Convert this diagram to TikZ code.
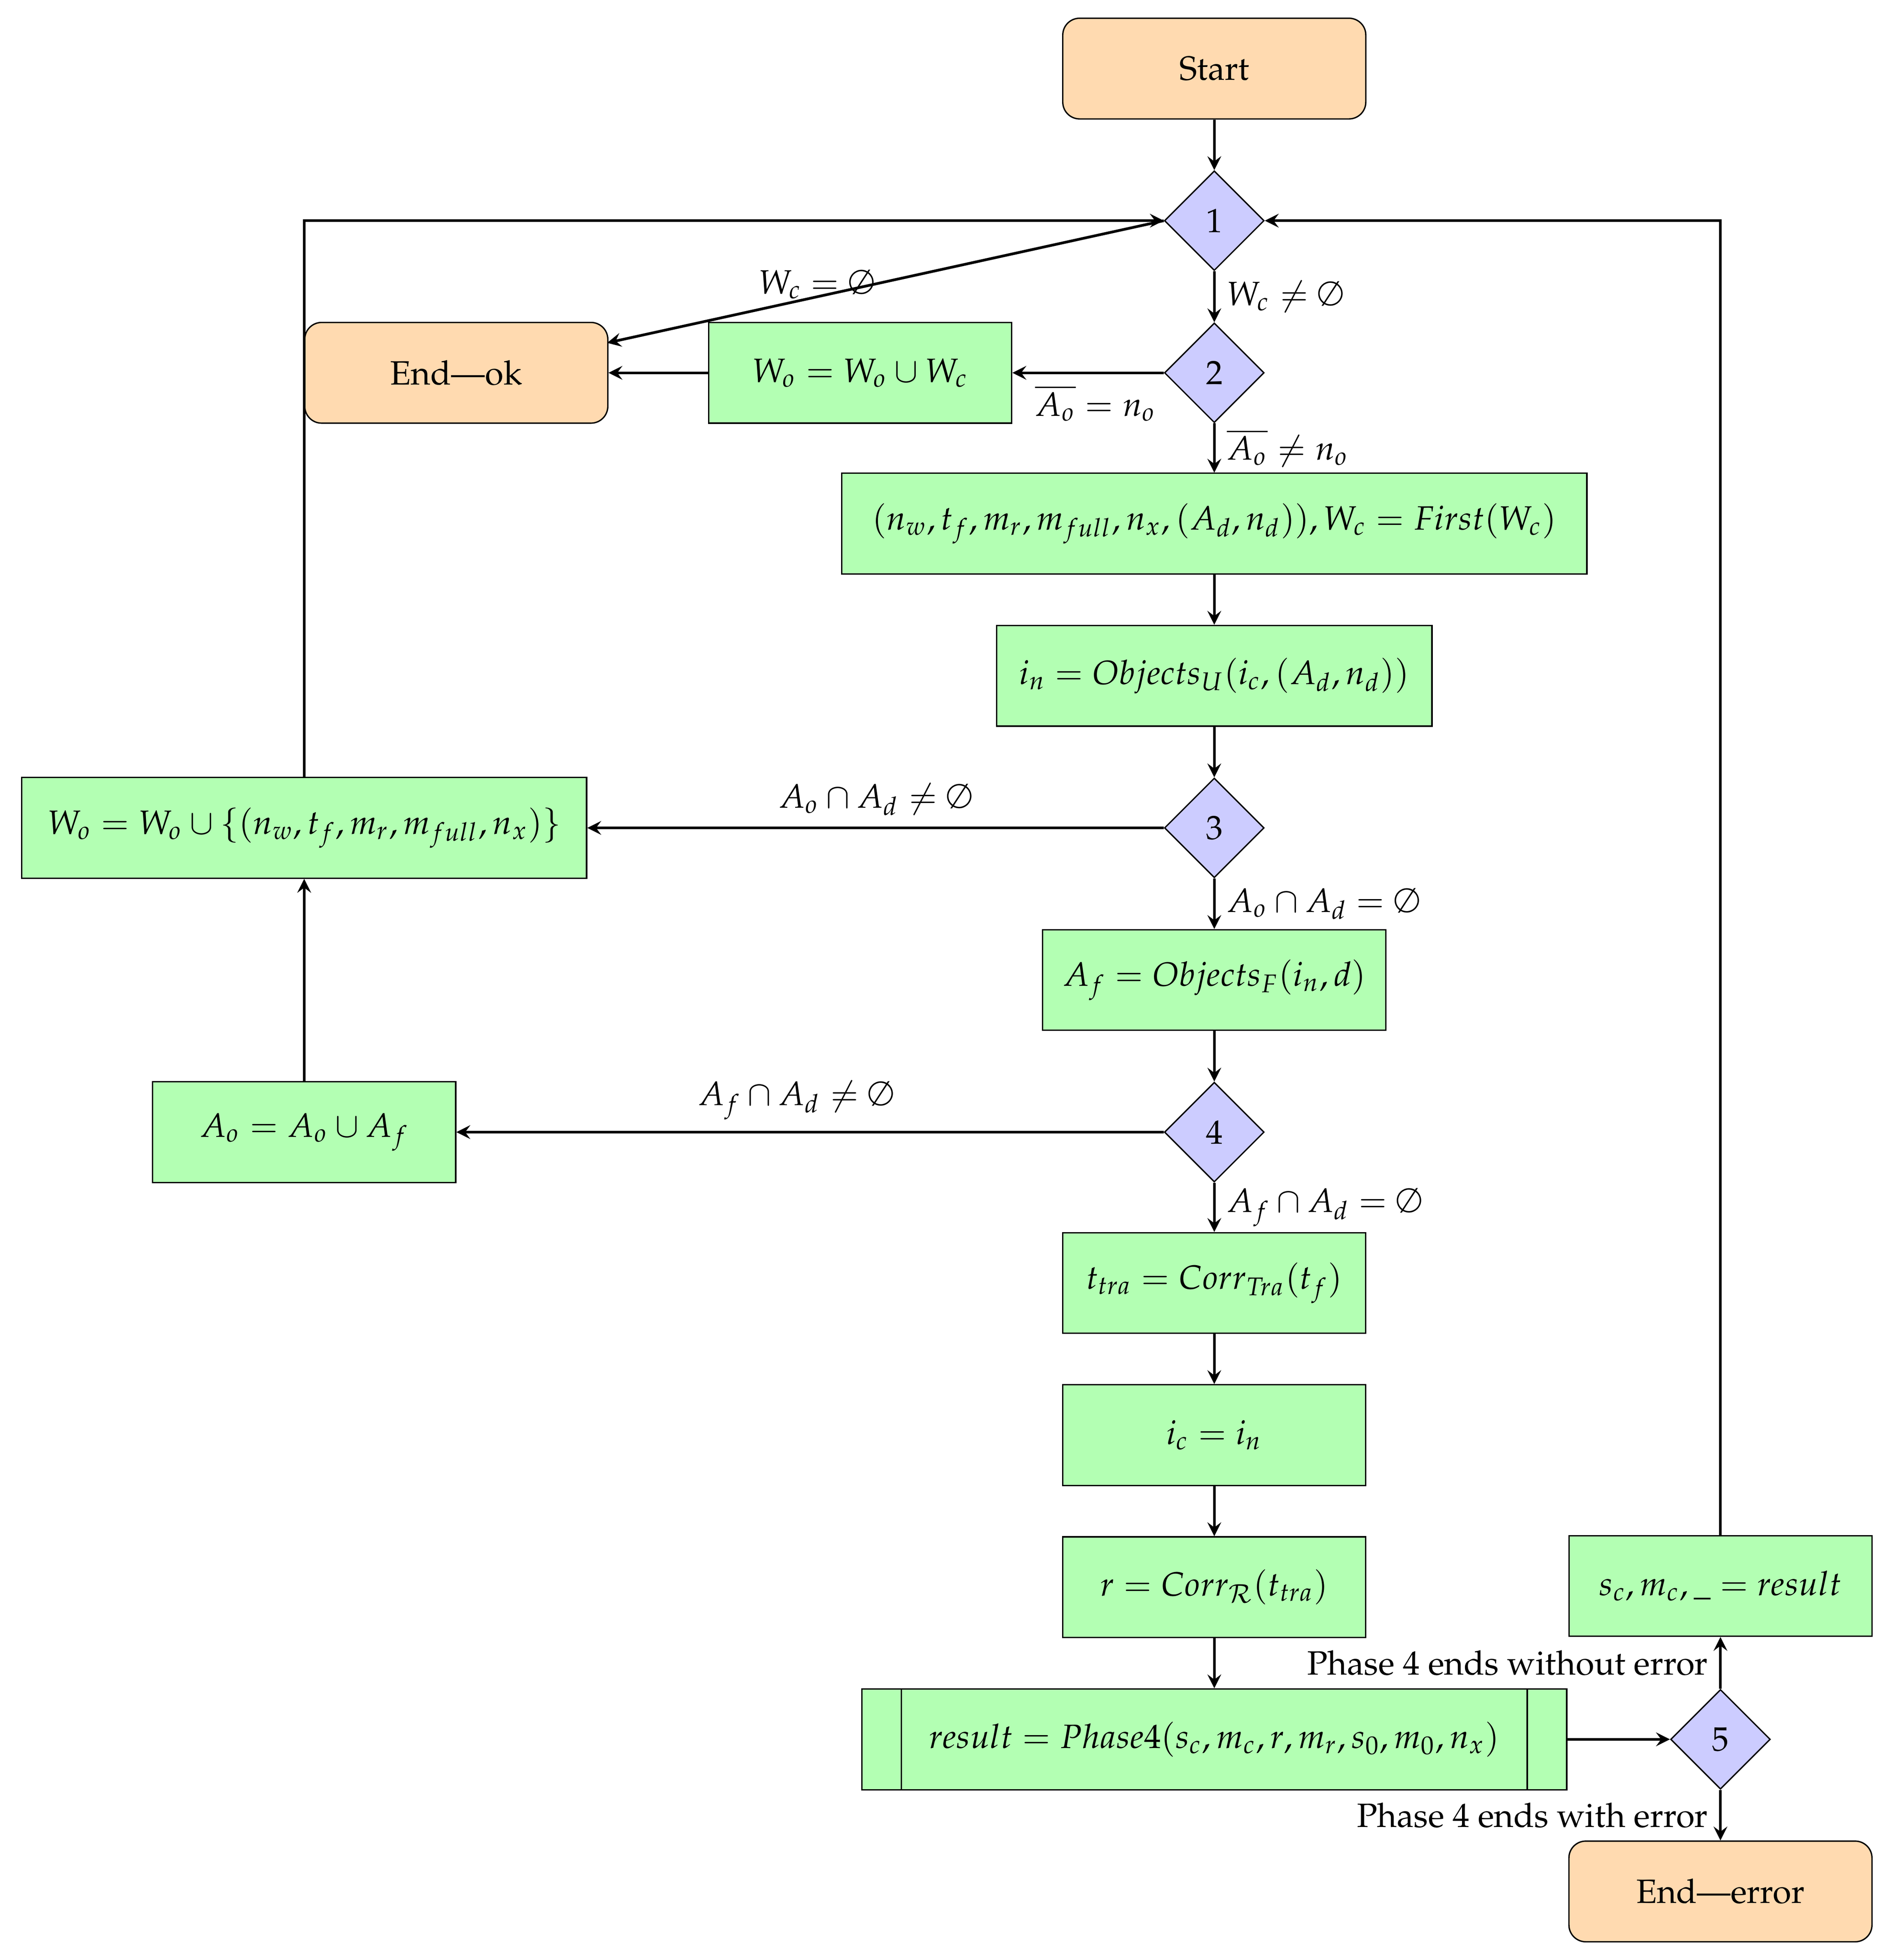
\documentclass[tikz,border=0pt]{standalone}
\usepackage[T1]{fontenc}
\usepackage{mathpazo}
\usetikzlibrary{shapes.geometric,arrows}
\definecolor{termc}{RGB}{255,218,176}
\definecolor{procc}{RGB}{179,255,179}
\definecolor{decc}{RGB}{204,204,255}
\begin{document}
\begin{tikzpicture}[x=0.013cm,y=-0.013cm,>=stealth,
  term/.style={draw,fill=termc,rounded corners=5pt,minimum width=3.16cm,minimum height=1.05cm},
  proc/.style={draw,fill=procc,minimum height=1.05cm},
  dec/.style={draw,fill=decc,diamond,minimum size=1.04cm,inner sep=0pt},
  line/.style={draw,thick,->}]
  \useasboundingbox (0,0) rectangle (1520,1572);

  \node[term] (start) at (974,55) {Start};
  \node[dec] (d1) at (974,177) {1};
  \node[dec] (d2) at (974,299) {2};
  \node[term] (endok) at (366,299) {End---ok};
  \node[proc,minimum width=3.16cm] (wc) at (690,299) {$W_o = W_o \cup W_c$};
  \node[proc,minimum width=7.77cm] (first) at (974,420) {$(n_w,t_f,m_r,m_{full},n_x,(A_d,n_d)),W_c = First(W_c)$};
  \node[proc,minimum width=4.54cm] (in) at (974,542) {$i_n = Objects_U(i_c,(A_d,n_d))$};
  \node[dec] (d3) at (974,664) {3};
  \node[proc,minimum width=5.89cm] (wo) at (244,664) {$W_o = W_o \cup \{(n_w,t_f,m_r,m_{full},n_x)\}$};
  \node[proc,minimum width=3.58cm] (af) at (974,786) {$A_f = Objects_F(i_n,d)$};
  \node[dec] (d4) at (974,908) {4};
  \node[proc,minimum width=3.16cm] (ao) at (244,908) {$A_o = A_o \cup A_f$};
  \node[proc,minimum width=3.16cm] (ttra) at (974,1029) {$t_{tra} = Corr_{Tra}(t_f)$};
  \node[proc,minimum width=3.16cm] (ic) at (974,1151) {$i_c = i_n$};
  \node[proc,minimum width=3.16cm] (r) at (974,1273) {$r = Corr_{\mathcal{R}}(t_{tra})$};
  \node[proc,minimum width=7.35cm] (res) at (974,1395) {$result = Phase4(s_c,m_c,r,m_r,s_0,m_0,n_x)$};
  \draw (723,1355) -- (723,1435) (1225,1355) -- (1225,1435);
  \node[dec] (d5) at (1380,1395) {5};
  \node[proc,minimum width=3.16cm] (sc) at (1380,1272) {$s_c,m_c,\_ = result$};
  \node[term] (enderr) at (1380,1517) {End---error};

  \coordinate (ta) at (487,275);
  \coordinate (tl) at (244,177);
  \coordinate (tr) at (1380,177);

  \path[line] (start) -- (d1);
  \path[line] (d1.west) -- (ta);
  \node at (655,228) {$W_c = \emptyset$};
  \path[line] (d1) -- node[right] {$W_c \neq \emptyset$} (d2);
  \path[line] (d2) -- node[below,pos=0.45] {$\overline{A_o} = n_o$} (wc);
  \path[line] (wc) -- (endok);
  \path[line] (d2) -- node[right] {$\overline{A_o} \neq n_o$} (first);
  \path[line] (first) -- (in);
  \path[line] (in) -- (d3);
  \path[line] (d3) -- node[above,pos=0.5] {$A_o \cap A_d \neq \emptyset$} (wo);
  \path[line] (d3) -- node[right] {$A_o \cap A_d = \emptyset$} (af);
  \path[line] (af) -- (d4);
  \path[line] (d4) -- node[above,pos=0.52] {$A_f \cap A_d \neq \emptyset$} (ao);
  \path[line] (d4) -- node[right] {$A_f \cap A_d = \emptyset$} (ttra);
  \path[line] (ttra) -- (ic);
  \path[line] (ic) -- (r);
  \path[line] (r) -- (res);
  \path[line] (res) -- (d5);
  \path[line] (d5) -- node[left] {Phase 4 ends without error} (sc);
  \path[line] (d5) -- node[left] {Phase 4 ends with error} (enderr);
  \path[line] (sc.north) -- (tr) -- (d1.east);
  \path[line] (wo.north) -- (tl) -- (d1.west);
  \path[line] (ao) -- (wo);
\end{tikzpicture}
\end{document}
